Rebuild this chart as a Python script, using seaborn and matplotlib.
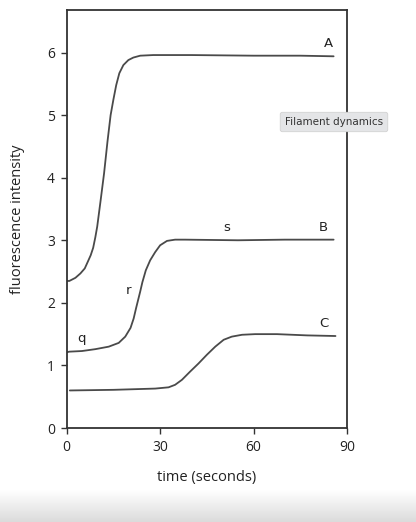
import seaborn as sns
import matplotlib.pyplot as plt
import numpy as np
import pandas as pd

# curve A
time_a = [0, 0.85, 2.8, 4.4, 5.8, 6.8, 7.7, 8.5, 9.2, 9.8, 10.9, 12.0, 13.1, 14.1, 15.0, 15.9,
          16.9, 18.2, 19.8, 21.4, 23.6, 27.8, 40, 60, 75, 85.7]
fluo_a = [2.35, 2.35, 2.40, 2.47, 2.55, 2.66, 2.76, 2.88, 3.05, 3.22, 3.64, 4.07, 4.58, 5.00, 5.25, 5.48,
          5.67, 5.80, 5.88, 5.92, 5.95, 5.96, 5.96, 5.95, 5.95, 5.94]

# curve B
time_b = [0, 0.85, 4.9, 9.2, 13.5, 16.7, 18.8, 20.5, 21.5, 22.3, 23.6, 24.3, 25.4, 26.8, 28.4,
          30.0, 32.2, 34.8, 38, 55, 70, 85.7]
fluo_b = [1.21, 1.22, 1.23, 1.26, 1.30, 1.36, 1.46, 1.60, 1.75, 1.92, 2.18, 2.33, 2.52, 2.68, 2.81,
          2.92, 2.99, 3.01, 3.01, 3.00, 3.01, 3.01]

# curve C
time_c = [1, 15, 28.4, 32.7, 34.8, 37.0, 39.6, 42.3, 45.0, 47.7, 50.4, 53.0, 56.3, 60.5, 67.5, 77.2, 86.3]
fluo_c = [0.60, 0.61, 0.63, 0.65, 0.69, 0.77, 0.90, 1.03, 1.17, 1.30, 1.41, 1.46, 1.49, 1.50, 1.50, 1.48, 1.47]

curve_labels = ['A', 'B', 'C', 's', 'r', 'q']
label_x = [84, 82.5, 82.5, 51.3, 19.8, 4.8]
label_y = [6.15, 3.20, 1.67, 3.20, 2.20, 1.43]

x_ticks = [0, 30, 60, 90]
y_ticks = [0, 1, 2, 3, 4, 5, 6]

df = pd.concat([
    pd.DataFrame({'time': time_a, 'fluo': fluo_a, 'curve': 'A'}),
    pd.DataFrame({'time': time_b, 'fluo': fluo_b, 'curve': 'B'}),
    pd.DataFrame({'time': time_c, 'fluo': fluo_c, 'curve': 'C'}),
])

sns.set_style('ticks')
plt.rcParams['font.family'] = ['Open Sans', 'DejaVu Sans']

fig = plt.figure(figsize=(4.16, 5.22), dpi=100)
ax = fig.add_axes([66.7 / 416, 94 / 522, 280.3 / 416, 418 / 522])

line_col = '#4a4a4a'
sns.lineplot(data=df, x='time', y='fluo', hue='curve', units='curve', estimator=None,
             palette=[line_col] * 3, linewidth=1.3, legend=False, sort=True, ax=ax,
             solid_joinstyle='round', solid_capstyle='round')

for lab, lx, ly in zip(curve_labels, label_x, label_y):
    ax.text(lx, ly, lab, ha='center', va='center', fontsize=9.5, color='#222222',
            family=['DejaVu Sans'])

ax.set_xlim(0, 90)
ax.set_ylim(0, 6.68)
ax.set_xticks(x_ticks)
ax.set_yticks(y_ticks)
ax.tick_params(axis='both', direction='out', length=4.5, width=1, color='#333333',
               labelsize=10, labelcolor='#222222', pad=4)
for sp in ax.spines.values():
    sp.set_color('#333333')
    sp.set_linewidth(1.3)
    sp.set_visible(True)

ax.set_xlabel('time (seconds)', fontsize=10.5, color='#222222', labelpad=11)
ax.set_ylabel('fluorescence intensity', fontsize=10.5, color='#222222', labelpad=16)

# tooltip overlay
fig.text(334 / 416, 1 - 122 / 522, 'Filament dynamics', ha='center', va='center',
         fontsize=7.5, color='#333333', family=['DejaVu Sans'],
         bbox=dict(boxstyle='round,pad=0.45,rounding_size=0.2', fc='#e4e5e7', ec='#d2d2d2', lw=0.6))

# grey band at the bottom
band = fig.add_axes([0, 0, 1, 32 / 522])
shade = np.linspace(1.0, 0.86, 64)
grad = np.dstack([shade, shade, shade]).reshape(64, 1, 3)
band.imshow(grad, aspect='auto', extent=[0, 1, 0, 1])
band.axis('off')

fig.savefig('out.png', dpi=100)
